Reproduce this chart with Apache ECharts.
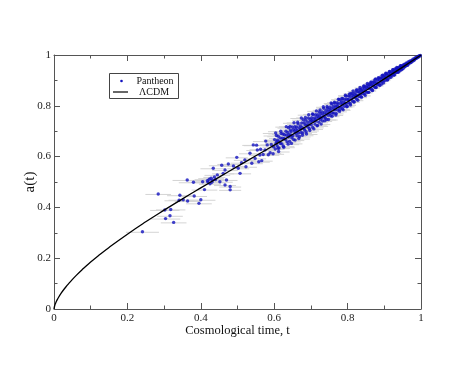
<!DOCTYPE html>
<html>
<head>
<meta charset="utf-8">
<script src="https://cdn.jsdelivr.net/npm/echarts@6/dist/echarts.min.js"></script>
<style>html,body{margin:0;padding:0;background:#fff}#c{width:474px;height:365px}</style>
</head>
<body>
<div id="c"></div>
<script>
// x ticks / y ticks
const tickMin = 0, tickMax = 1, tickStep = 0.2;
const xTitle = 'Cosmological time, t';
const yTitle = 'a(t)';
const legendNames = ['Pantheon', 'ΛCDM'];

// ΛCDM curve [t, a(t)]
const lcdm = [[0,0],[0.002,0.0136],[0.005,0.025],[0.01,0.0397],[0.02,0.0631],[0.03,0.0826],[0.04,0.1001],[0.06,0.1313],[0.08,0.1591],[0.1,0.1847],[0.12,0.2088],[0.15,0.2425],[0.2,0.2946],[0.25,0.3432],[0.3,0.3892],[0.35,0.4337],[0.4,0.4769],[0.45,0.5194],[0.5,0.5613],[0.55,0.6032],[0.6,0.645],[0.65,0.6871],[0.7,0.7295],[0.75,0.7724],[0.8,0.8161],[0.85,0.8605],[0.9,0.9059],[0.95,0.9523],[1,1]];

// Pantheon points [t, a, error half-width in t]
const pantheonLow = [
[0.241,0.304,0.045],[0.284,0.453,0.035],[0.302,0.390,0.04],[0.304,0.356,0.04],[0.316,0.367,0.035],[0.318,0.392,0.04],[0.326,0.341,0.035],[0.341,0.428,0.04],[0.343,0.448,0.035],[0.352,0.430,0.04],[0.363,0.508,0.04],[0.364,0.425,0.035],[0.38,0.499,0.04],[0.382,0.445,0.035],[0.395,0.416,0.035],[0.40,0.430,0.04],[0.405,0.501,0.04],[0.41,0.470,0.035],[0.418,0.505,0.035],[0.42,0.499,0.035],[0.423,0.511,0.04],[0.425,0.493,0.03],[0.428,0.515,0.035],[0.43,0.499,0.035],[0.432,0.507,0.03],[0.434,0.554,0.035],[0.437,0.520,0.03],[0.44,0.51,0.035],[0.445,0.528,0.035],[0.452,0.501,0.035],[0.457,0.566,0.035],[0.461,0.534,0.03],[0.466,0.547,0.035],[0.466,0.488,0.03],[0.47,0.508,0.03],[0.475,0.571,0.03],[0.48,0.482,0.03],[0.48,0.469,0.03],[0.489,0.563,0.03],[0.498,0.597,0.03],[0.502,0.554,0.03],[0.507,0.534,0.03],[0.511,0.576,0.03],[0.52,0.587,0.03],[0.523,0.560,0.03],[0.534,0.613,0.03],[0.539,0.574,0.03],[0.543,0.646,0.03],[0.548,0.593,0.03],[0.554,0.626,0.03],[0.561,0.606,0.03],[0.566,0.584,0.03],[0.575,0.626,0.03],[0.581,0.646,0.03],[0.589,0.615,0.03],[0.598,0.639,0.03],[0.607,0.659,0.03],[0.611,0.633,0.03]
];
const pantheonMid = [
[0.601,0.667,0.03],[0.603,0.630,0.025],[0.605,0.653,0.03],[0.606,0.683,0.035],[0.608,0.643,0.02],[0.609,0.665,0.03],
[0.611,0.680,0.03],[0.613,0.634,0.03],[0.614,0.659,0.025],[0.616,0.673,0.03],[0.617,0.652,0.02],[0.619,0.691,0.035],
[0.621,0.650,0.025],[0.622,0.672,0.03],[0.624,0.689,0.03],[0.625,0.641,0.03],[0.627,0.671,0.02],[0.628,0.686,0.03],
[0.631,0.667,0.025],[0.632,0.700,0.035],[0.634,0.684,0.03],[0.635,0.658,0.025],[0.637,0.695,0.03],[0.639,0.677,0.02],[0.639,0.714,0.03],
[0.641,0.686,0.025],[0.642,0.660,0.03],[0.644,0.705,0.03],[0.645,0.684,0.02],[0.646,0.698,0.03],[0.648,0.674,0.025],[0.649,0.717,0.03],
[0.651,0.682,0.02],[0.652,0.707,0.03],[0.653,0.667,0.025],[0.655,0.700,0.03],[0.656,0.718,0.03],[0.658,0.692,0.02],[0.659,0.708,0.025],
[0.661,0.717,0.03],[0.662,0.682,0.025],[0.663,0.702,0.02],[0.665,0.729,0.03],[0.666,0.693,0.025],[0.668,0.713,0.02],[0.669,0.679,0.03],
[0.671,0.721,0.025],[0.672,0.708,0.02],[0.673,0.695,0.03],[0.675,0.732,0.03],[0.676,0.716,0.02],[0.678,0.693,0.025],[0.679,0.745,0.03],
[0.681,0.710,0.02],[0.682,0.733,0.025],[0.683,0.705,0.02],[0.684,0.725,0.03],[0.686,0.744,0.025],[0.687,0.698,0.03],[0.689,0.725,0.02],
[0.691,0.736,0.025],[0.692,0.716,0.02],[0.693,0.752,0.03],[0.695,0.726,0.02],[0.696,0.710,0.025],[0.698,0.746,0.03],[0.699,0.737,0.02]
];
const pantheonHigh = [
[0.701,0.725,0.02],[0.702,0.753,0.025],[0.703,0.742,0.02],[0.705,0.715,0.03],[0.706,0.766,0.025],[0.707,0.739,0.02],[0.709,0.752,0.025],
[0.711,0.728,0.02],[0.712,0.746,0.02],[0.713,0.765,0.025],[0.714,0.740,0.015],[0.716,0.756,0.02],[0.717,0.721,0.03],[0.719,0.765,0.02],
[0.721,0.752,0.02],[0.722,0.735,0.025],[0.723,0.776,0.02],[0.724,0.759,0.015],[0.726,0.746,0.02],[0.727,0.769,0.025],[0.729,0.753,0.02],
[0.731,0.776,0.02],[0.732,0.740,0.025],[0.733,0.765,0.015],[0.735,0.790,0.02],[0.736,0.756,0.02],[0.737,0.773,0.015],[0.739,0.753,0.02],
[0.741,0.782,0.02],[0.742,0.768,0.015],[0.743,0.746,0.025],[0.745,0.792,0.02],[0.746,0.777,0.015],[0.747,0.763,0.02],[0.749,0.786,0.02],
[0.751,0.770,0.015],[0.752,0.795,0.02],[0.753,0.780,0.015],[0.754,0.761,0.02],[0.756,0.789,0.02],[0.757,0.807,0.02],[0.759,0.772,0.02],
[0.761,0.797,0.015],[0.762,0.771,0.02],[0.763,0.787,0.015],[0.765,0.810,0.02],[0.766,0.784,0.015],[0.767,0.797,0.02],[0.769,0.770,0.02],
[0.771,0.798,0.015],[0.772,0.812,0.02],[0.773,0.783,0.015],[0.774,0.806,0.015],[0.776,0.794,0.015],[0.777,0.825,0.02],[0.779,0.784,0.02],
[0.781,0.811,0.015],[0.782,0.794,0.015],[0.783,0.819,0.02],[0.785,0.805,0.015],[0.786,0.788,0.02],[0.787,0.829,0.015],[0.789,0.813,0.015],
[0.791,0.798,0.015],[0.792,0.824,0.015],[0.793,0.811,0.01],[0.795,0.838,0.02],[0.796,0.808,0.015],[0.797,0.826,0.015],[0.799,0.798,0.02],
[0.801,0.825,0.015],[0.802,0.839,0.015],[0.803,0.812,0.015],[0.804,0.824,0.01],[0.806,0.837,0.015],[0.807,0.809,0.015],[0.809,0.849,0.02],
[0.811,0.828,0.01],[0.812,0.841,0.015],[0.813,0.819,0.015],[0.814,0.849,0.015],[0.816,0.836,0.01],[0.817,0.816,0.015],[0.819,0.844,0.015],
[0.821,0.832,0.01],[0.822,0.853,0.015],[0.823,0.842,0.01],[0.825,0.826,0.015],[0.826,0.862,0.015],[0.827,0.841,0.01],[0.829,0.855,0.015],
[0.831,0.836,0.01],[0.832,0.853,0.01],[0.833,0.865,0.015],[0.835,0.845,0.01],[0.836,0.862,0.015],[0.837,0.835,0.015],[0.839,0.857,0.01],
[0.841,0.868,0.015],[0.842,0.848,0.01],[0.843,0.857,0.01],[0.845,0.877,0.015],[0.846,0.846,0.01],[0.847,0.868,0.01],[0.849,0.859,0.01],
[0.851,0.873,0.01],[0.852,0.853,0.01],[0.853,0.881,0.015],[0.855,0.869,0.01],[0.856,0.853,0.01],[0.857,0.875,0.01],[0.859,0.884,0.01],
[0.861,0.867,0.01],[0.862,0.882,0.01],[0.863,0.891,0.015],[0.865,0.866,0.01],[0.866,0.881,0.008],[0.867,0.861,0.01],[0.869,0.891,0.01],
[0.871,0.882,0.008],[0.872,0.897,0.01],[0.873,0.874,0.01],[0.874,0.891,0.008],[0.876,0.872,0.01],[0.877,0.905,0.01],[0.879,0.891,0.008],
[0.881,0.883,0.008],[0.882,0.902,0.01],[0.883,0.889,0.008],[0.885,0.909,0.01],[0.886,0.883,0.008],[0.887,0.901,0.008],[0.889,0.910,0.01],
[0.891,0.895,0.008],[0.892,0.909,0.008],[0.893,0.886,0.01],[0.895,0.907,0.008],[0.896,0.920,0.01],[0.897,0.898,0.008],[0.899,0.914,0.008],
[0.901,0.920,0.008],[0.902,0.900,0.008],[0.903,0.911,0.006],[0.905,0.927,0.008],[0.906,0.908,0.006],[0.907,0.920,0.008],[0.909,0.903,0.008],
[0.911,0.927,0.008],[0.912,0.918,0.006],[0.913,0.909,0.008],[0.915,0.934,0.008],[0.916,0.919,0.006],[0.917,0.929,0.006],[0.919,0.918,0.006],
[0.921,0.934,0.006],[0.922,0.922,0.006],[0.923,0.942,0.008],[0.925,0.931,0.006],[0.926,0.920,0.008],[0.927,0.937,0.006],[0.929,0.945,0.006],
[0.931,0.930,0.006],[0.932,0.944,0.006],[0.933,0.935,0.005],[0.935,0.949,0.006],[0.936,0.932,0.006],[0.937,0.944,0.005],[0.939,0.951,0.006],
[0.941,0.941,0.005],[0.942,0.952,0.005],[0.943,0.938,0.006],[0.945,0.958,0.006],[0.946,0.950,0.004],[0.947,0.945,0.005],[0.949,0.958,0.005],
[0.951,0.956,0.004],[0.952,0.948,0.005],[0.953,0.963,0.005],[0.955,0.955,0.004],[0.956,0.963,0.004],[0.957,0.955,0.004],[0.959,0.968,0.004],
[0.961,0.960,0.004],[0.962,0.968,0.004],[0.963,0.959,0.004],[0.965,0.973,0.004],[0.966,0.968,0.003],[0.967,0.965,0.004],[0.969,0.976,0.003],
[0.971,0.970,0.003],[0.972,0.977,0.003],[0.973,0.970,0.003],[0.975,0.979,0.003],[0.976,0.975,0.003],[0.978,0.983,0.003],[0.979,0.977,0.003],
[0.981,0.984,0.002],[0.982,0.980,0.002],[0.984,0.988,0.002],[0.985,0.985,0.002],[0.987,0.990,0.002],[0.988,0.987,0.002],
[0.990,0.992,0.002],[0.992,0.991,0.002],[0.993,0.995,0.001],[0.995,0.994,0.001],[0.996,0.997,0.001],[0.998,0.998,0.001]
];
// outer envelope of the cloud
const pantheonWide = [
[0.552,0.645,0.035],[0.558,0.580,0.03],[0.563,0.629,0.03],[0.570,0.608,0.03],[0.577,0.661,0.035],[0.584,0.607,0.03],[0.592,0.648,0.03],[0.597,0.611,0.03],
[0.604,0.693,0.035],[0.612,0.620,0.03],[0.618,0.700,0.035],[0.626,0.637,0.03],[0.633,0.718,0.03],[0.638,0.649,0.03],[0.643,0.719,0.03],[0.647,0.652,0.03],
[0.654,0.733,0.03],[0.657,0.665,0.025],[0.664,0.735,0.03],[0.667,0.671,0.03],[0.674,0.752,0.03],[0.677,0.684,0.03],[0.685,0.754,0.025],[0.688,0.689,0.03],
[0.694,0.765,0.03],[0.697,0.703,0.025],[0.704,0.768,0.025],[0.708,0.709,0.025],[0.715,0.780,0.025],[0.718,0.723,0.025],[0.725,0.784,0.02],[0.728,0.728,0.025],
[0.734,0.796,0.02],[0.738,0.741,0.02],[0.744,0.797,0.02],[0.748,0.746,0.025],[0.755,0.811,0.02],[0.758,0.759,0.02],[0.764,0.814,0.02],[0.768,0.764,0.02],
[0.775,0.826,0.02],[0.778,0.778,0.02],[0.784,0.829,0.02],[0.788,0.784,0.02],[0.794,0.842,0.02],[0.798,0.796,0.015],[0.805,0.847,0.015],[0.808,0.803,0.015],
[0.815,0.858,0.015],[0.818,0.815,0.015],[0.824,0.862,0.015],[0.828,0.822,0.015],[0.834,0.872,0.015],[0.838,0.834,0.015],[0.844,0.878,0.015],[0.848,0.841,0.015],
[0.854,0.888,0.01],[0.858,0.853,0.01],[0.864,0.894,0.01],[0.868,0.860,0.01],[0.875,0.905,0.01],[0.878,0.872,0.01],[0.884,0.911,0.01],[0.888,0.880,0.01],
[0.894,0.919,0.008],[0.898,0.891,0.008],[0.904,0.928,0.008],[0.908,0.901,0.008],[0.914,0.935,0.008],[0.918,0.912,0.008],[0.924,0.942,0.006],[0.928,0.922,0.006],
[0.934,0.951,0.006],[0.938,0.932,0.006],[0.944,0.958,0.005],[0.948,0.943,0.005]
];
const pantheon = pantheonLow.concat(pantheonMid, pantheonWide, pantheonHigh);

const SERIF = '"Liberation Serif", "DejaVu Serif", serif';
const chart = echarts.init(document.getElementById('c'), null, {renderer: 'canvas'});

function axisBase(pos, showLabel) {
  return {
    type: 'value', min: tickMin, max: tickMax, interval: tickStep, position: pos,
    nameMoveOverlap: false,
    axisLine: {show: true, onZero: false, lineStyle: {color: '#555', width: 1}},
    axisTick: {show: true, inside: true, length: 6, lineStyle: {color: '#555'}},
    minorTick: {show: true, splitNumber: 2, length: 3.5, lineStyle: {color: '#555'}},
    splitLine: {show: false}, minorSplitLine: {show: false},
    axisLabel: {show: showLabel, fontFamily: SERIF, fontSize: 11, color: '#222'}
  };
}
const xBottom = axisBase('bottom', true);
xBottom.axisLabel.margin = 4;
xBottom.name = xTitle; xBottom.nameLocation = 'middle'; xBottom.nameGap = 15;
xBottom.nameTextStyle = {fontFamily: SERIF, fontSize: 12.5, color: '#111'};
const xTop = axisBase('top', false);
const yLeft = axisBase('left', true);
yLeft.axisLabel.margin = 3;
yLeft.name = yTitle; yLeft.nameLocation = 'middle'; yLeft.nameGap = 16;
yLeft.nameTextStyle = {fontFamily: SERIF, fontSize: 15, color: '#111'};
const yRight = axisBase('right', false);

chart.setOption({
  animation: false,
  backgroundColor: '#fff',
  grid: {left: 54, right: 53, top: 55, bottom: 56, containLabel: false},
  xAxis: [xBottom, xTop],
  yAxis: [yLeft, yRight],
  series: [
    {
      type: 'custom', name: 'errors', xAxisIndex: 0, yAxisIndex: 0, clip: true, silent: true,
      data: pantheon,
      renderItem: function (params, api) {
        const t = api.value(0), a = api.value(1), d = api.value(2);
        const p1 = api.coord([t - d, a]);
        const p2 = api.coord([t + d, a]);
        return {type: 'line', shape: {x1: p1[0], y1: p1[1] + 0.5, x2: p2[0], y2: p2[1] + 0.5},
                style: {stroke: '#d4d4d4', lineWidth: 1}};
      },
      z: 1
    },
    {
      type: 'scatter', name: legendNames[0], data: pantheon.map(p => [p[0], p[1]]),
      symbol: 'circle', symbolSize: 3.4,
      itemStyle: {color: '#1212bf'}, z: 3
    },
    {
      type: 'line', name: legendNames[1], data: lcdm, smooth: true, symbol: 'none',
      lineStyle: {color: '#000', width: 1.3}, z: 4
    }
  ],
  graphic: [
    {type: 'rect', left: 109, top: 73, shape: {width: 69, height: 25}, style: {fill: '#fff', stroke: '#444', lineWidth: 1}, z: 10},
    {type: 'circle', shape: {cx: 121.5, cy: 81, r: 1.3}, style: {fill: '#1212bf'}, z: 11},
    {type: 'line', shape: {x1: 113, y1: 92, x2: 128, y2: 92}, style: {stroke: '#000', lineWidth: 1.2}, z: 11},
    {type: 'text', x: 155, y: 81, style: {text: legendNames[0], fontFamily: SERIF, fontSize: 10, fill: '#111', align: 'center', verticalAlign: 'middle'}, z: 11},
    {type: 'text', x: 154, y: 92, style: {text: legendNames[1], fontFamily: SERIF, fontSize: 10, fill: '#111', align: 'center', verticalAlign: 'middle'}, z: 11}
  ]
});
</script>
</body>
</html>
